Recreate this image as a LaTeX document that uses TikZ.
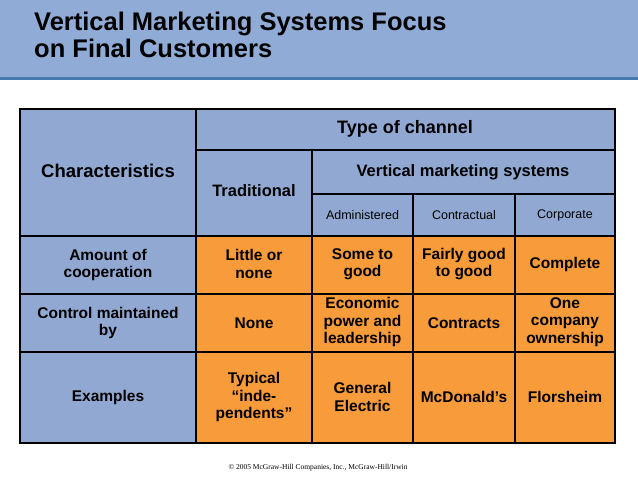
\documentclass[tikz,border=0pt]{standalone}
\usepackage{fontspec}
\setmainfont{Liberation Sans}
\newfontfamily\serifx{Liberation Serif}
\definecolor{hb}{HTML}{8FABD6}
\definecolor{hd}{HTML}{4A78B0}
\definecolor{cb}{HTML}{91A9D2}
\definecolor{co}{HTML}{F79B3B}
\begin{document}
\begin{tikzpicture}[x=1pt,y=-1pt,
 cell/.style={draw=black,line width=1.4pt},
 txt/.style={align=center,font=\bfseries\fontsize{15.5}{17.5}\selectfont,inner sep=0pt},
 sml/.style={align=center,font=\fontsize{12.5}{14}\selectfont,inner sep=0pt}]
\useasboundingbox (0,0) rectangle (638,479);
\fill[hb] (0,0) rectangle (638,78);
\fill[hd] (0,77) rectangle (638,80);
\node[anchor=north west,align=left,inner sep=0pt,font=\bfseries\fontsize{25.5}{27}\selectfont] (title) at (34,12) {Vertical Marketing Systems Focus\\on Final Customers};
\foreach \a/\b/\c/\d in {20/109/196/236, 196/109/615/150, 196/150/312/236, 312/150/615/194, 312/194/413/236, 413/194/515/236, 515/194/615/236, 20/236/196/294, 20/294/196/352, 20/352/196/443}
 \filldraw[cell,fill=cb] (\a,\b) rectangle (\c,\d);
\foreach \a in {196,312,413,515}{
 \pgfmathsetmacro\c{\a==196?312:(\a==312?413:(\a==413?515:615))}
 \foreach \b/\d in {236/294,294/352,352/443}
  \filldraw[cell,fill=co] (\a,\b) rectangle (\c,\d);}
\node[txt,font=\bfseries\fontsize{18.5}{20}\selectfont] (ch) at (108,171) {Characteristics};
\node[txt,font=\bfseries\fontsize{18}{20}\selectfont] (toc) at (405,129) {Type of channel};
\node[txt,font=\bfseries\fontsize{16.5}{18}\selectfont] (trad) at (254,191) {Traditional};
\node[txt,font=\bfseries\fontsize{16.5}{18}\selectfont] (vms) at (463,172) {Vertical marketing systems};
\node[sml] (adm) at (362.5,215) {Administered};
\node[sml] (con) at (464,215) {Contractual};
\node[sml] (cor) at (565,215) {Corporate};
\node[txt] (r1) at (108,265) {Amount of\\cooperation};
\node[txt] (r2) at (108,323) {Control maintained\\by};
\node[txt] (r3) at (108,397) {Examples};
\node[txt] (a1) at (254,264) {Little or\\none};
\node[txt] (a2) at (362.5,264) {Some to\\good};
\node[txt] (a3) at (464,264) {Fairly good\\to good};
\node[txt] (a4) at (565,264) {Complete};
\node[txt] (b1) at (254,323) {None};
\node[txt] (b2) at (362.5,322) {Economic\\power and\\leadership};
\node[txt] (b3) at (464,323) {Contracts};
\node[txt] (b4) at (565,322) {One\\company\\ownership};
\node[txt] (c1) at (254,397) {Typical\\``inde-\\pendents''};
\node[txt] (c2) at (362.5,397) {General\\Electric};
\node[txt] (c3) at (464,397) {McDonald's};
\node[txt] (c4) at (565,397) {Florsheim};
\node[font=\serifx\fontsize{7.5}{8}\selectfont,inner sep=0pt] (copy) at (318,468) {© 2005 McGraw-Hill Companies, Inc., McGraw-Hill/Irwin};
\end{tikzpicture}
\end{document}
